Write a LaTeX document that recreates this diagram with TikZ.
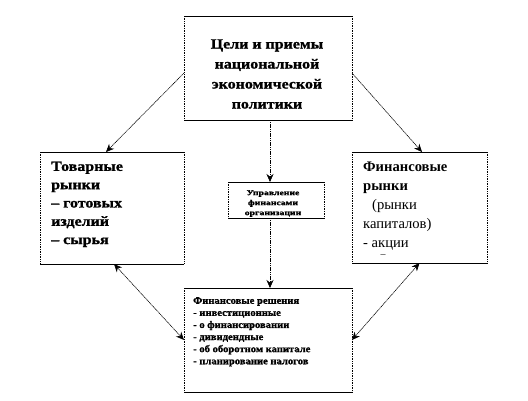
\documentclass[tikz,border=0pt]{standalone}
\usepackage{fontspec}
\setmainfont{Liberation Serif}
\newfontfamily\heavy[FakeStretch=1.14,FakeBold=1.2]{Liberation Serif}
\newfontfamily\heavymid[FakeStretch=1.3,FakeBold=1.2]{Liberation Serif}
\newfontfamily\heavybot[FakeStretch=1.06,FakeBold=1.2]{Liberation Serif}
\usetikzlibrary{arrows.meta}
\newcommand\drawbx[1]{%
  \draw[topbot] (#1.north west) -- (#1.north east);
  \draw[topbot] (#1.south west) -- (#1.south east);
  \draw[sides] (#1.north west) -- (#1.south west);
  \draw[sides] (#1.north east) -- (#1.south east);}
\begin{document}
\begin{tikzpicture}[x=1pt,y=-1pt,
  bx/.style={rectangle, inner sep=0pt, outer sep=0pt},
  topbot/.style={line width=0.8pt},
  sides/.style={line width=0.7pt, densely dotted},
  tip/.tip={Stealth[length=8pt,width=7pt]},
  conn/.style={line width=0.6pt, dash pattern=on 1.2pt off 0.6pt, -tip},
  conn2/.style={line width=0.6pt, dash pattern=on 1.2pt off 0.6pt, tip-tip},
  txt/.style={inner sep=0pt, align=left, anchor=north west}]
\useasboundingbox (0,0) rectangle (528,400);
\fill[white] (0,0) rectangle (528,400);
% boxes
\node[bx, minimum width=168pt, minimum height=104pt] (top) at (268,68) {};
\node[bx, minimum width=144pt, minimum height=112pt] (left) at (112,208) {};
\node[bx, minimum width=135pt, minimum height=111pt] (right) at (419.5,207.5) {};
\node[bx, minimum width=96pt, minimum height=36pt] (mid) at (276,200) {};
\node[bx, minimum width=168pt, minimum height=104pt] (bot) at (268,340) {};
\drawbx{top}\drawbx{left}\drawbx{right}\drawbx{mid}\drawbx{bot}
% texts
\node[inner sep=0pt, align=center, font=\heavy\bfseries\fontsize{14}{20}\selectfont] (ttop) at (267,74)
  {Цели и приемы\\национальной\\экономической\\политики};
\node[txt, font=\heavy\bfseries\fontsize{14}{18.3}\selectfont] (tleft) at (51,161.5)
  {Товарные\\рынки\\– готовых\\изделий\\– сырья};
\node[txt, font=\fontsize{14.6}{19}\selectfont] (tright) at (363,161.5)
  {\textbf{Финансовые}\\\textbf{рынки}\\\hspace{9pt}(рынки\\капиталов)\\- акции};
\node[inner sep=0pt, font=\fontsize{10}{12}\selectfont] (tdash) at (383,256) {–};
\node[inner sep=0pt, align=center, font=\heavymid\bfseries\fontsize{7.5}{10}\selectfont] (tmid) at (273,203.5)
  {Управление\\финансами\\организации};
\node[txt, font=\heavybot\bfseries\fontsize{10}{12.1}\selectfont] (tbot) at (193,297)
  {Финансовые решения\\- инвестиционные\\- о финансировании\\- дивидендные\\- об оборотном капитале\\- планирование налогов};
% connectors
\draw[conn] ([yshift=-5pt]top.west) -- ([xshift=-6pt]left.north);
\draw[conn] ([yshift=-5pt]top.east) -- ([xshift=2.5pt]right.north);
\draw[conn] (top.south -| 270,0) -- (mid.north -| 270,0);
\draw[conn] (mid.south -| 270,0) -- (bot.north -| 270,0);
\draw[conn2] ([xshift=2pt]left.south) -- (bot.west);
\draw[conn2] (right.south) -- (bot.east);
\end{tikzpicture}
\end{document}
